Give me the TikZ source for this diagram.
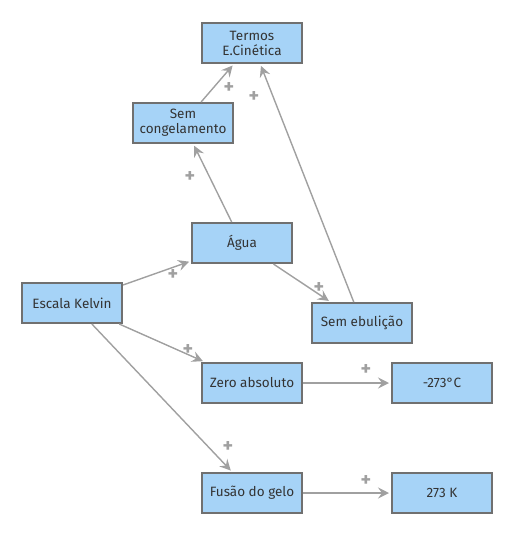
\documentclass[tikz,border=0pt]{standalone}
\usepackage{fontspec}
\setmainfont{Fira Sans}
\usepackage{tikz}
\usetikzlibrary{arrows.meta}
\definecolor{boxfill}{HTML}{A6D3F7}
\definecolor{boxline}{HTML}{707070}
\definecolor{linkgray}{HTML}{A0A0A0}
\tikzset{concept/.style={draw=boxline,fill=boxfill,line width=2pt,minimum width=100pt,minimum height=40pt,inner sep=1pt,align=center,font=\fontsize{13.5}{15}\selectfont,text=black!80}}
\tikzset{link/.style={draw=linkgray,line width=1.4pt,shorten >=2pt,-{Stealth[length=11pt,width=11pt,inset=4pt]}}}
\tikzset{sign/.style={text=linkgray,font=\bfseries\fontsize{20}{20}\selectfont,inner sep=0pt}}

\begin{document}
\begin{tikzpicture}[x=1pt, y=-1pt]
    \useasboundingbox (0,0) rectangle (514,536);
    
    \node [concept] (termos) at (252, 43) {Termos\\E.Cinética};
    \node [concept] (semcong) at (183, 123) {Sem\\congelamento};
    \node [concept] (agua) at (242, 243) {Água};
    \node [concept] (kelvin) at (72, 303) {Escala Kelvin};
    \node [concept] (semebul) at (362, 323) {Sem ebulição};
    \node [concept] (zero) at (252, 383) {Zero absoluto};
    \node [concept] (menos) at (442, 383) {-273°C};
    \node [concept] (fusao) at (252, 493) {Fusão do gelo};
    \node [concept] (k273) at (442, 493) {273 K};
    
    \draw [link] (semcong) -- (termos);
    \draw [link] (semebul) -- (termos);
    \draw [link] (agua) -- (semcong);
    \draw [link] (kelvin) -- (agua);
    \draw [link] (agua) -- (semebul);
    \draw [link] (kelvin) -- (zero);
    \draw [link] (kelvin) -- (fusao);
    \draw [link] (zero) -- (menos);
    \draw [link] (fusao) -- (k273);
    
    \node [sign] (s1) at (229, 88) {+};
    \node [sign] (s2) at (254, 97) {+};
    \node [sign] (s3) at (190, 177) {+};
    \node [sign] (s4) at (173, 275) {+};
    \node [sign] (s5) at (319, 288) {+};
    \node [sign] (s6) at (188, 350) {+};
    \node [sign] (s7) at (228, 447) {+};
    \node [sign] (s8) at (366, 370) {+};
    \node [sign] (s9) at (366, 481) {+};
    
\end{tikzpicture}
\end{document}
